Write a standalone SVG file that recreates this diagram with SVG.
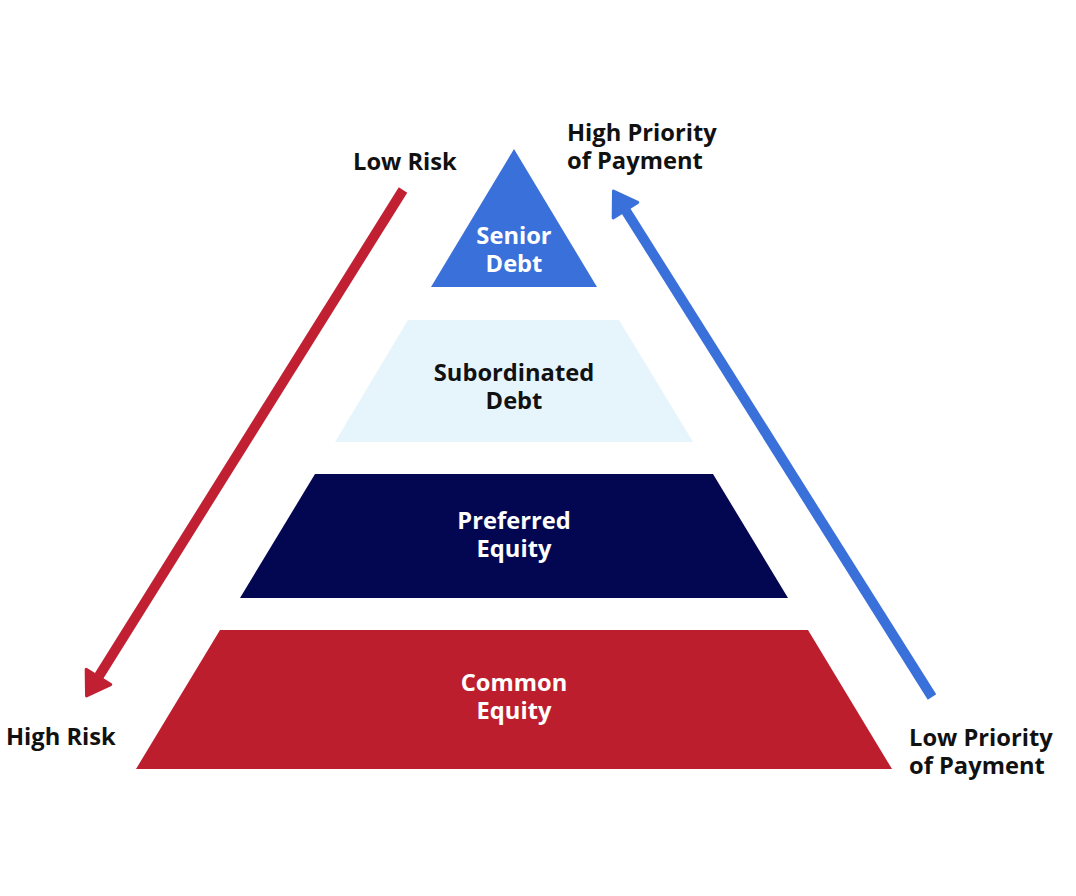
<svg xmlns="http://www.w3.org/2000/svg" width="1076" height="896" viewBox="0 0 1076 896">
<style>
  .lbl { font-family: "Open Sans", "Liberation Sans", sans-serif; font-weight: 700; font-size: 23.7px; fill: #111111; }
  .in { font-family: "Open Sans", "Liberation Sans", sans-serif; font-weight: 700; font-size: 23.7px; text-anchor: middle; }
  .w { fill: #ffffff; }
  .d { fill: #111111; }
</style>
<defs>
  <marker id="headRed" markerUnits="userSpaceOnUse" markerWidth="40" markerHeight="40" viewBox="-5 -20 35 40" refX="0" refY="0" orient="auto" overflow="visible">
    <path d="M1,-14.5 L23.5,0 L1,14.5 Z" fill="#C11F32" stroke="#C11F32" stroke-width="3" stroke-linejoin="round"/>
  </marker>
  <marker id="headBlue" markerUnits="userSpaceOnUse" markerWidth="40" markerHeight="40" viewBox="-5 -20 35 40" refX="0" refY="0" orient="auto" overflow="visible">
    <path d="M1,-14.5 L23.5,0 L1,14.5 Z" fill="#3A70DA" stroke="#3A70DA" stroke-width="3" stroke-linejoin="round"/>
  </marker>
</defs>
<rect width="1076" height="896" fill="#ffffff"/>

<g id="senior-debt">
  <polygon points="514,149 597,287 431,287" fill="#3A70DA"/>
  <text class="in w" x="514" y="244">Senior</text>
  <text class="in w" x="514" y="272">Debt</text>
</g>
<g id="subordinated-debt">
  <polygon points="408,320 619,320 693,442 335,442" fill="#E6F4FC"/>
  <text class="in d" x="514" y="381">Subordinated</text>
  <text class="in d" x="514" y="409">Debt</text>
</g>
<g id="preferred-equity">
  <polygon points="315,474 713,474 788,598 240,598" fill="#030751"/>
  <text class="in w" x="514" y="529">Preferred</text>
  <text class="in w" x="514" y="557">Equity</text>
</g>
<g id="common-equity">
  <polygon points="220,630 808,630 892,769 136,769" fill="#BD1E2E"/>
  <text class="in w" x="514" y="691">Common</text>
  <text class="in w" x="514" y="719">Equity</text>
</g>

<g id="connectors">
  <line x1="403" y1="190" x2="99" y2="676" stroke="#C11F32" stroke-width="10" marker-end="url(#headRed)"/>
  <line x1="932" y1="697" x2="626" y2="211" stroke="#3A70DA" stroke-width="10" marker-end="url(#headBlue)"/>
</g>

<g id="labels">
  <text class="lbl" x="353" y="170">Low Risk</text>
  <text class="lbl" x="567" y="141">High Priority</text>
  <text class="lbl" x="567" y="169">of Payment</text>
  <text class="lbl" x="6" y="745">High Risk</text>
  <text class="lbl" x="909" y="746">Low Priority</text>
  <text class="lbl" x="909" y="774">of Payment</text>
</g>
</svg>
